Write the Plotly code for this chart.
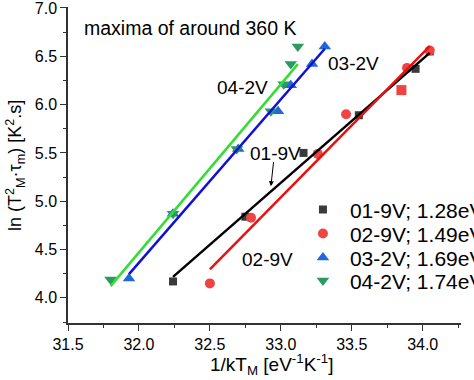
import numpy as np
import plotly.graph_objects as go

# ---- data ----
x01 = [32.24, 32.75, 33.16, 33.55, 33.95, 34.05]
y01 = [4.17, 4.84, 5.50, 5.89, 6.37, 6.55]
x02 = [32.50, 32.79, 33.26, 33.46, 33.85, 33.89, 34.05]
y02 = [4.15, 4.83, 5.49, 5.90, 6.15, 6.38, 6.56]
sym02 = ["circle", "circle", "circle", "circle", "square", "circle", "circle"]
x03 = [31.93, 32.24, 32.70, 32.98, 33.07, 33.22, 33.31]
y03 = [4.20, 4.87, 5.54, 5.93, 6.20, 6.42, 6.60]
x04 = [31.80, 32.24, 32.69, 32.93, 33.02, 33.07, 33.12]
y04 = [4.19, 4.87, 5.54, 5.93, 6.21, 6.42, 6.60]

names = ["01-9V", "02-9V", "03-2V", "04-2V"]
energies = [1.28, 1.49, 1.69, 1.74]

xs = [x01, x02, x03, x04]
ys = [y01, y02, y03, y04]
symbols = ["square", sym02, "triangle-up", "triangle-down"]
marker_colors = ["#3a3a3a", "#f04444", "#2266dd", "#2a9a5e"]
line_colors = ["#000000", "#e81010", "#1010d8", "#33dd33"]
marker_sizes = [8, 10, 11, 11]
legend_ids = ["legend", "legend2", "legend3", "legend4"]
legend_y = [0.358, 0.282, 0.206, 0.133]

FONT = "Arial, Liberation Sans, sans-serif"

fig = go.Figure()

# markers
for i in range(4):
    fig.add_trace(go.Scatter(
        x=xs[i], y=ys[i], mode="markers",
        name=f"{names[i]}; {energies[i]:.2f}eV",
        legend=legend_ids[i],
        marker=dict(symbol=symbols[i], color=marker_colors[i], size=marker_sizes[i],
                    line=dict(width=0)),
    ))

# fitted lines (slope = activation energy, least-squares intercept)
for i in range(4):
    xa = np.array(xs[i]); ya = np.array(ys[i])
    b = ya.mean() - energies[i] * xa.mean()
    xl = np.array([xa.min(), xa.max()])
    fig.add_trace(go.Scatter(
        x=xl, y=energies[i] * xl + b, mode="lines", showlegend=False,
        line=dict(color=line_colors[i], width=2.5), hoverinfo="skip",
    ))

fig.add_annotation(x=0.036, y=0.975, xref="paper", yref="paper", xanchor="left", yanchor="top",
                   text="maxima of around 360 K", showarrow=False,
                   font=dict(size=19.5, color="black", family=FONT))
fig.add_annotation(x=33.51, y=6.43, xref="x", yref="y", text="03-2V", showarrow=False,
                   font=dict(size=19, color="black", family=FONT))
fig.add_annotation(x=32.73, y=6.175, xref="x", yref="y", text="04-2V", showarrow=False,
                   font=dict(size=19, color="black", family=FONT))
fig.add_annotation(x=32.965, y=5.495, xref="x", yref="y", text="01-9V", showarrow=False,
                   font=dict(size=19, color="black", family=FONT))
fig.add_annotation(x=32.905, y=4.40, xref="x", yref="y", text="02-9V", showarrow=False,
                   font=dict(size=19, color="black", family=FONT))
# arrow pointing to the 01-9V fit line
fig.add_annotation(x=32.93, y=5.155, ax=32.95, ay=5.42, xref="x", yref="y", axref="x", ayref="y",
                   text="", showarrow=True, arrowhead=2, arrowsize=1, arrowwidth=1,
                   arrowcolor="black")
# axis titles
fig.add_annotation(x=-0.135, y=0.5, xref="paper", yref="paper", textangle=-90,
                   xanchor="center", yanchor="middle",
                   text="ln (T<sup>2</sup><sub>M</sub>·τ<sub>m</sub>) [K<sup>2</sup>.s]",
                   showarrow=False, font=dict(size=18, color="black", family=FONT))
fig.add_annotation(x=0.519, y=-0.131, xref="paper", yref="paper",
                   xanchor="center", yanchor="middle",
                   text="1/kT<sub>M</sub> [eV<sup>-1</sup>K<sup>-1</sup>]",
                   showarrow=False, font=dict(size=19, color="black", family=FONT))

axis_common = dict(showline=True, linecolor="#333333", linewidth=1.5, ticks="outside",
                   ticklen=6, tickwidth=1.2, tickcolor="#333333", showgrid=False, zeroline=False,
                   tickfont=dict(size=16, color="black", family=FONT), mirror=False,
                   automargin=False, ticklabeloverflow="allow")

fig.update_xaxes(range=[31.5, 34.27], dtick=0.5, tickformat=".1f",
                 minor=dict(dtick=0.25, ticks="outside", ticklen=3, tickcolor="#333333"),
                 **axis_common)
fig.update_yaxes(range=[3.74, 7.01], dtick=0.5, tickformat=".1f",
                 minor=dict(dtick=0.25, ticks="outside", ticklen=3, tickcolor="#333333"),
                 **axis_common)

leg_common = dict(x=0.580, xanchor="left", yanchor="middle", bgcolor="rgba(0,0,0,0)",
                  font=dict(size=21, family=FONT, color="black"), itemwidth=44)

fig.update_layout(
    width=474, height=380,
    margin=dict(l=68, r=13, t=7, b=57, autoexpand=False),
    paper_bgcolor="white", plot_bgcolor="white",
    font=dict(family=FONT, color="black"),
    legend=dict(y=legend_y[0], **leg_common),
    legend2=dict(y=legend_y[1], **leg_common),
    legend3=dict(y=legend_y[2], **leg_common),
    legend4=dict(y=legend_y[3], **leg_common),
)

fig.write_html("out.html", config={"displayModeBar": False},
               post_script="document.body.style.margin='0';")
